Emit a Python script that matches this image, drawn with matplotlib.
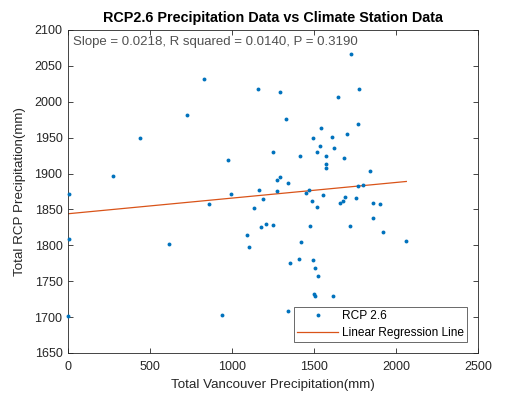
import matplotlib
matplotlib.use("Agg")
import matplotlib.pyplot as plt
import numpy as np

plt.rcParams['font.family'] = ['Liberation Sans', 'DejaVu Sans']

vancouver_precip = [5, 5, 0, 274, 439, 616, 726, 829, 858, 937, 978, 996,
                    1091, 1104, 1134, 1160, 1165, 1177, 1187, 1207, 1252, 1252,
                    1272, 1274, 1291, 1295, 1327, 1341, 1342, 1352, 1409, 1415,
                    1419, 1451, 1471, 1473, 1486, 1494, 1494, 1500, 1509, 1509,
                    1516, 1520, 1526, 1535, 1542, 1553, 1573, 1573, 1573, 1608,
                    1616, 1622, 1649, 1657, 1677, 1681, 1690, 1700, 1720, 1726,
                    1756, 1767, 1768, 1774, 1800, 1842, 1858, 1862, 1900, 1922, 2063]
rcp_precip = [1872, 1809, 1701, 1896, 1949, 1802, 1982, 2032, 1857, 1703, 1919, 1872,
              1815, 1798, 1852, 2018, 1877, 1826, 1864, 1830, 1930, 1829,
              1891, 1876, 1895, 2013, 1976, 1887, 1709, 1775, 1781, 1925,
              1804, 1873, 1877, 1827, 1862, 1949, 1779, 1732, 1768, 1729,
              1854, 1930, 1757, 1938, 1964, 1870, 1924, 1913, 1908, 1951,
              1729, 1936, 2006, 1859, 1862, 1922, 1868, 1955, 1827, 2067,
              1866, 1969, 1883, 2018, 1884, 1904, 1859, 1838, 1858, 1818, 1806]

slope = 0.0218
intercept = 1844.0
stats_text = "Slope = 0.0218, R squared = 0.0140, P = 0.3190"

x_ticks = [0, 500, 1000, 1500, 2000, 2500]
y_ticks = [1650, 1700, 1750, 1800, 1850, 1900, 1950, 2000, 2050, 2100]

blue = '#0072BD'
orange = '#D95319'
axcol = '#262626'

fig = plt.figure(figsize=(5.29, 3.97), dpi=100)
ax = fig.add_axes([68/529, 1-353/397, (478-68)/529, (353-30)/397])

ax.plot(vancouver_precip, rcp_precip, linestyle='none', marker='o',
        markersize=2.8, markerfacecolor=blue, markeredgecolor=blue,
        markeredgewidth=0, color=blue, label='RCP 2.6', clip_on=False, zorder=3)
xl = np.array([min(vancouver_precip), max(vancouver_precip)])
ax.plot(xl, intercept + slope*xl, color=orange, linewidth=0.9,
        label='Linear Regression Line', zorder=2)

ax.set_xlim(x_ticks[0], x_ticks[-1])
ax.set_ylim(y_ticks[0], y_ticks[-1])
ax.set_xticks(x_ticks)
ax.set_yticks(y_ticks)
ax.tick_params(direction='in', length=3.5, width=0.6, colors=axcol,
               labelsize=9, top=True, right=True, pad=4)
ax.tick_params(axis='x', pad=6)
for s in ax.spines.values():
    s.set_color(axcol)
    s.set_linewidth(0.6)

ax.set_xlabel('Total Vancouver Precipitation(mm)', fontsize=9.6, color=axcol, labelpad=4)
ax.set_ylabel('Total RCP Precipitation(mm)', fontsize=9.6, color=axcol, labelpad=6)
ax.set_title('RCP2.6 Precipitation Data vs Climate Station Data', fontsize=10.4,
             fontweight='bold', color='black', pad=6)

ax.text(0.012, 0.962, stats_text, transform=ax.transAxes, fontsize=9.5,
        color='#505050', va='center', ha='left')

leg = ax.legend(loc='lower right', fontsize=8.6, frameon=True, fancybox=False,
                edgecolor=axcol, borderpad=0.27, handlelength=3.36,
                labelspacing=0.4, handletextpad=0.35, borderaxespad=0.92)
leg.get_frame().set_linewidth(0.6)

fig.savefig('out.png', dpi=100)
